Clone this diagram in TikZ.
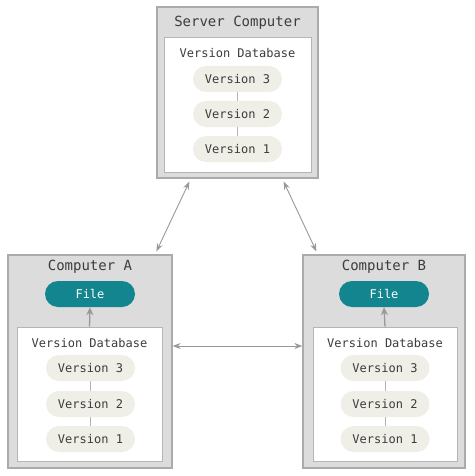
\documentclass[tikz,border=0pt]{standalone}
\usepackage{fontspec}
\setmonofont{DejaVu Sans Mono}
\usetikzlibrary{arrows.meta}
\definecolor{outerfill}{HTML}{DCDCDC}
\definecolor{outerdraw}{HTML}{ABABAB}
\definecolor{innerdraw}{HTML}{B5B5B5}
\definecolor{pillfill}{HTML}{EFEEE7}
\definecolor{tealfill}{HTML}{13858E}
\definecolor{txt}{HTML}{3C3C3C}
\definecolor{arr}{HTML}{999999}
\tikzset{
  outerbox/.style={draw=outerdraw, fill=outerfill, line width=1.2pt, minimum width=#1, inner sep=0pt},
  innerbox/.style={draw=innerdraw, fill=white, line width=0.9pt, inner sep=0pt},
  pill/.style={fill=pillfill, rounded corners=13pt, minimum width=89pt, minimum height=26pt, inner sep=0pt, font=\ttfamily\fontsize{12}{13}\selectfont, text=txt},
  filepill/.style={fill=tealfill, rounded corners=13pt, minimum width=90pt, minimum height=26pt, inner sep=0pt, font=\ttfamily\fontsize{12}{13}\selectfont, text=white},
  header/.style={font=\ttfamily\fontsize{14}{15}\selectfont, text=txt, inner sep=0pt},
  dbtitle/.style={font=\ttfamily\fontsize{12}{13}\selectfont, text=txt, inner sep=0pt},
  vline/.style={draw=innerdraw, line width=0.6pt},
  conn/.style={draw=arr, line width=0.9pt, {Stealth[length=8pt,width=6pt]}-{Stealth[length=8pt,width=6pt]}},
  uparr/.style={draw=arr, line width=1.3pt, -{Stealth[length=8pt,width=7pt]}}
}
\begin{document}
\begin{tikzpicture}[x=1pt,y=-1pt]
\useasboundingbox[fill=white] (0,0) rectangle (474,476);
% Server
\node[outerbox=161pt, minimum height=171pt] (srv) at (237.5,92.5) {};
\node[innerbox, minimum width=147pt, minimum height=135pt] (srvdb) at (237.5,104.5) {};
\node[header] (srvt) at (237.5,23) {Server Computer};
\node[dbtitle] (srvdbt) at (237.5,53) {Version Database};
\node[pill] (s3) at (237.5,79) {Version 3};
\node[pill] (s2) at (237.5,114) {Version 2};
\node[pill] (s1) at (237.5,149) {Version 1};
\draw[vline] (s3) -- (s2);
\draw[vline] (s2) -- (s1);
% Computer A
\node[outerbox=164pt, minimum height=213pt] (A) at (90,361.5) {};
\node[innerbox, minimum width=145pt, minimum height=134pt] (Adb) at (89.5,394) {};
\node[header] (At) at (90,267) {Computer A};
\node[filepill] (Af) at (90,294) {File};
\node[dbtitle] (Adbt) at (89.5,343) {Version Database};
\node[pill] (a3) at (90.5,368) {Version 3};
\node[pill] (a2) at (90.5,404) {Version 2};
\node[pill] (a1) at (90.5,439) {Version 1};
\draw[vline] (a3) -- (a2);
\draw[vline] (a2) -- (a1);
\draw[uparr] (Adb.north) -- (Af.south);
% Computer B
\node[outerbox=162pt, minimum height=213pt] (B) at (384,361.5) {};
\node[innerbox, minimum width=144pt, minimum height=134pt] (Bdb) at (385,394) {};
\node[header] (Bt) at (384,267) {Computer B};
\node[filepill] (Bf) at (384,294) {File};
\node[dbtitle] (Bdbt) at (385,343) {Version Database};
\node[pill] (b3) at (385,368) {Version 3};
\node[pill] (b2) at (385,404) {Version 2};
\node[pill] (b1) at (385,439) {Version 1};
\draw[vline] (b3) -- (b2);
\draw[vline] (b2) -- (b1);
\draw[uparr] (Bdb.north) -- (Bf.south);
% connectors
\draw[conn] ([xshift=33pt,yshift=-3pt]srv.south west) -- ([xshift=149pt,yshift=3pt]A.north west);
\draw[conn] ([xshift=-35pt,yshift=-3pt]srv.south east) -- ([xshift=14pt,yshift=3pt]B.north west);
\draw[conn] ([yshift=15.5pt]A.east) -- ([yshift=15.5pt]B.west);
\end{tikzpicture}
\end{document}
